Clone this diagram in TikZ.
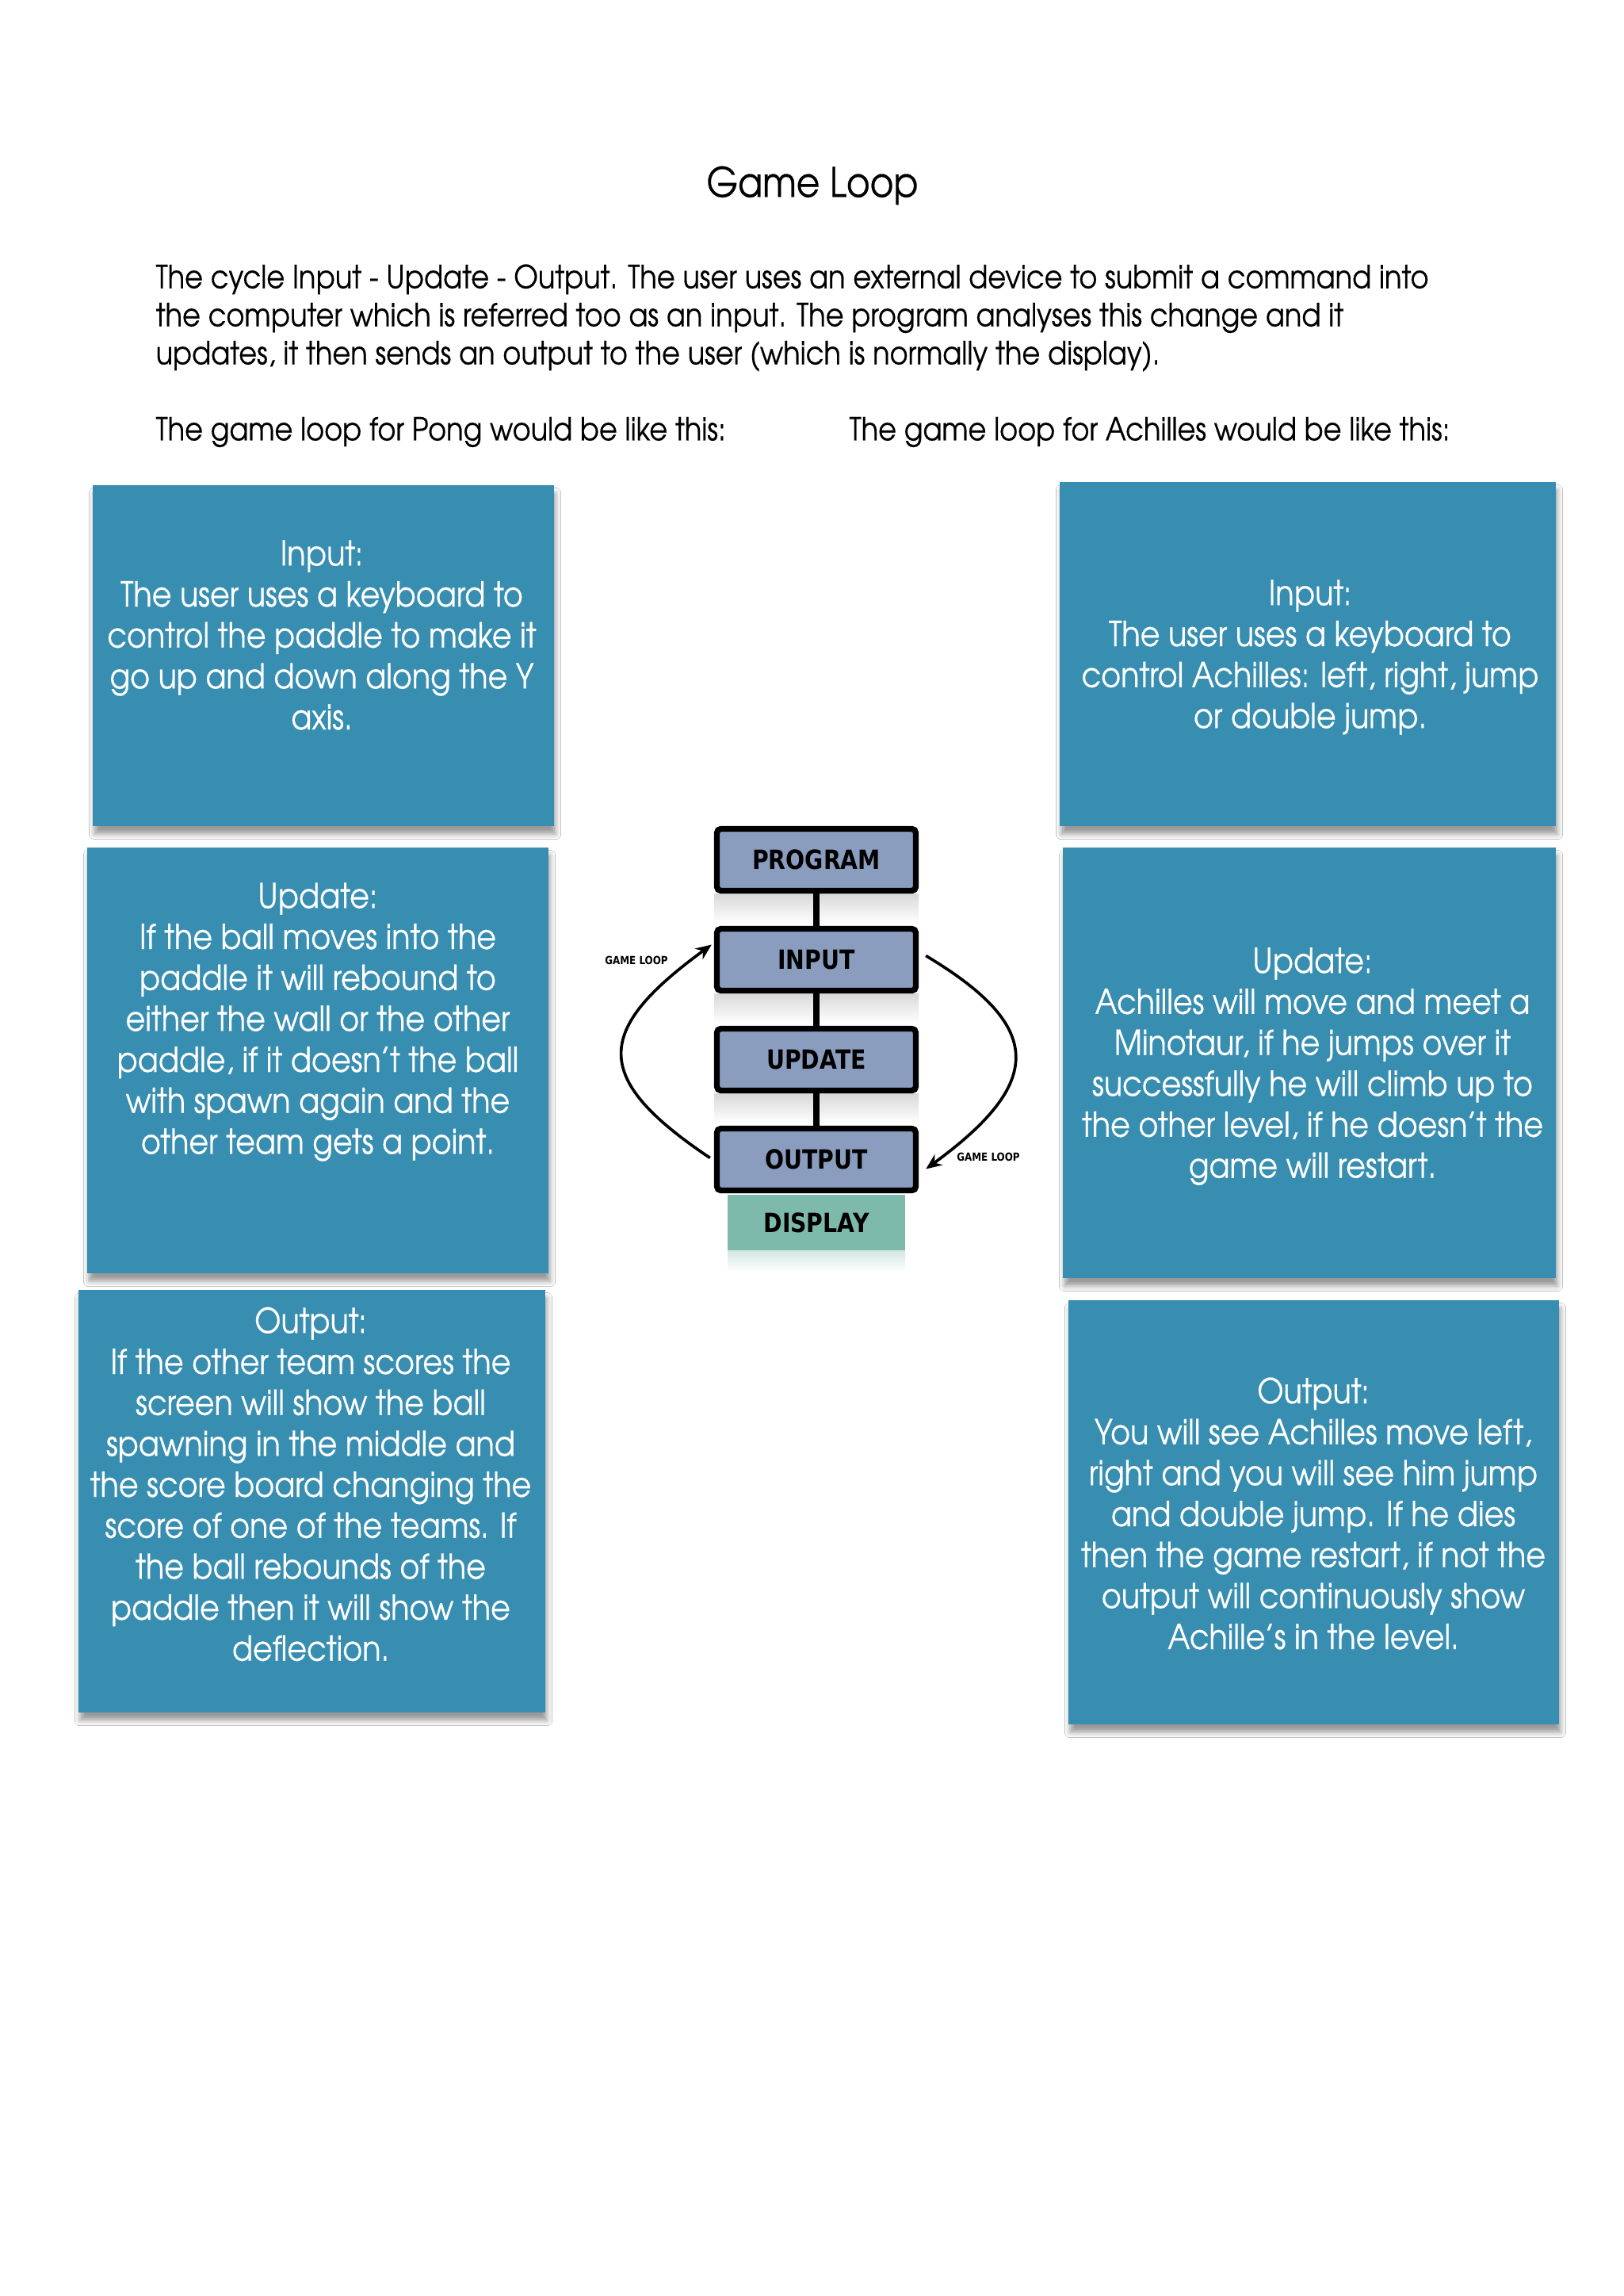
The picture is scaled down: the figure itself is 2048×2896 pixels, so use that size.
\documentclass[tikz,border=0pt]{standalone}
\usepackage{fontspec}
\setmainfont{texgyreadventor}[Extension=.otf, UprightFont=*-regular, BoldFont=*-bold, ItalicFont=*-italic, BoldItalicFont=*-bolditalic, FakeStretch=0.88, FakeBold=0.4]
\newfontfamily\handfont{DejaVu Sans}[FakeStretch=0.85]
\usetikzlibrary{calc,fit,shadows.blur,arrows.meta}
\definecolor{boxblue}{RGB}{55,142,177}
\definecolor{progfill}{RGB}{138,157,191}
\definecolor{dispfill}{RGB}{126,186,172}
\begin{document}
\begin{tikzpicture}[x=0.3pt,y=-0.3pt,
  bluebox/.style={fill=boxblue, draw=none, inner sep=0pt,
    blur shadow={shadow xshift=0.6pt, shadow yshift=-3pt, shadow blur radius=2pt, shadow opacity=40}},
  boxtext/.style={text=white, align=center, inner sep=0pt,
    font=\fontsize{13pt}{15.5pt}\selectfont},
  bodytext/.style={text=black, align=left, inner sep=0pt, anchor=west,
    font=\fontsize{12pt}{14.4pt}\selectfont},
  progbox/.style={draw=black, line width=2.2pt, fill=progfill, rounded corners=1.5pt,
    minimum width=75.3pt, minimum height=23.4pt, inner sep=0pt,
    font=\handfont\bfseries\fontsize{10pt}{12pt}\selectfont},
  dispbox/.style={fill=dispfill, draw=none, minimum width=67.2pt, minimum height=21pt, inner sep=0pt,
    font=\handfont\bfseries\fontsize{10pt}{12pt}\selectfont},
  conn/.style={draw=black, line width=2.2pt},
  loopline/.style={draw=black, line width=1.1pt, -{Stealth[length=6pt,width=5pt]}},
  looplabel/.style={inner sep=0pt, font=\handfont\bfseries\fontsize{4.2pt}{5pt}\selectfont},
  refl/.style={top color=gray!30, bottom color=white, draw=none}
]
\useasboundingbox (0,0) rectangle (2048,2896);
\fill[white] (0,0) rectangle (2048,2896);

% title and introduction
\node[inner sep=0pt, font=\fontsize{15.5pt}{19pt}\selectfont] (title) at (1025,234) {Game Loop};
\node[bodytext] (intro) at (196,401) {The cycle Input - Update - Output. The user uses an external device to submit a command into\\
the computer which is referred too as an input. The program analyses this change and it\\
updates, it then sends an output to the user (which is normally the display).};
\node[bodytext] (pong) at (196,545) {The game loop for Pong would be like this:};
\node[bodytext] (ach) at (1071,545) {The game loop for Achilles would be like this:};

% left column boxes
\node[bluebox, fit={(117,612) (699,1042)}] (lin) {};
\node[bluebox, fit={(110,1069) (692,1606)}] (lup) {};
\node[bluebox, fit={(99,1627) (688,2160)}] (lout) {};
% right column boxes
\node[bluebox, fit={(1337,608) (1963,1042)}] (rin) {};
\node[bluebox, fit={(1341,1069) (1963,1612)}] (rup) {};
\node[bluebox, fit={(1348,1640) (1967,2175)}] (rout) {};

\node[boxtext] (lintxt) at (406,801) {Input:\\The user uses a keyboard to\\control the paddle to make it\\go up and down along the Y\\axis.};
\node[boxtext] (luptxt) at (401,1289) {Update:\\If the ball moves into the\\paddle it will rebound to\\either the wall or the other\\paddle, if it doesn’t the ball\\with spawn again and the\\other team gets a point.};
\node[boxtext] (louttxt) at (392,1872) {Output:\\If the other team scores the\\screen will show the ball\\spawning in the middle and\\the score board changing the\\score of one of the teams. If\\the ball rebounds of the\\paddle then it will show the\\deflection.};
\node[boxtext] (rintxt) at (1653,829) {Input:\\The user uses a keyboard to\\control Achilles: left, right, jump\\or double jump.};
\node[boxtext] (ruptxt) at (1656,1345) {Update:\\ Achilles will move and meet a\\Minotaur, if he jumps over it\\successfully he will climb up to\\the other level, if he doesn’t the\\game will restart.};
\node[boxtext] (routtxt) at (1657,1909) {Output:\\You will see Achilles move left,\\right and you will see him jump\\and double jump. If he dies\\then the game restart, if not the\\output will continuously show\\Achille’s in the level.};

% central game loop diagram
\coordinate (pc) at (1030,1084.5);
\coordinate (ic) at (1030,1210.5);
\coordinate (uc) at (1030,1336.5);
\coordinate (oc) at (1030,1462.5);
\coordinate (dc) at (1030,1542);
\fill[refl] ($(pc)+(-129,43)$) rectangle ($(pc)+(129,80)$);
\fill[refl] ($(ic)+(-129,43)$) rectangle ($(ic)+(129,80)$);
\fill[refl] ($(uc)+(-129,43)$) rectangle ($(uc)+(129,80)$);
\fill[top color=dispfill!35, bottom color=white, draw=none] ($(dc)+(-112,35)$) rectangle ($(dc)+(112,62)$);

\node[progbox] (prog) at (pc) {PROGRAM};
\node[progbox] (inp) at (ic) {INPUT};
\node[progbox] (upd) at (uc) {UPDATE};
\node[progbox] (outp) at (oc) {OUTPUT};
\node[dispbox] (disp) at (dc) {DISPLAY};
\draw[conn] (prog.south) -- (inp.north);
\draw[conn] (inp.south) -- (upd.north);
\draw[conn] (upd.south) -- (outp.north);

\coordinate (ls) at ($(outp.west)+(-5,-2)$);
\coordinate (le) at ($(inp.west)+(-3,-19)$);
\coordinate (rs) at ($(inp.east)+(9,-5)$);
\coordinate (re) at ($(outp.east)+(9,12)$);
\draw[loopline] (ls) .. controls (746,1360) and (749,1300) .. (le);
\draw[loopline] (rs) .. controls (1318,1295) and (1318,1365) .. (re);
\node[looplabel] (gl1) at (803,1211) {GAME LOOP};
\node[looplabel] (gl2) at (1247,1459) {GAME LOOP};
\end{tikzpicture}
\end{document}
